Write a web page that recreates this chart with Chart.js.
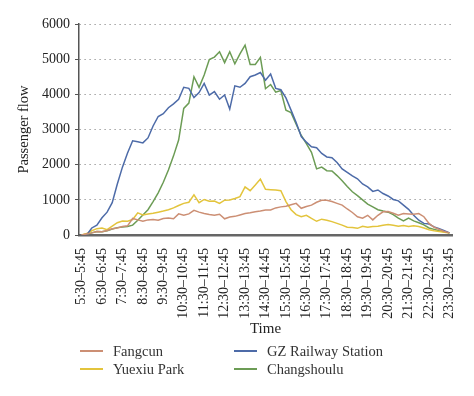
<!DOCTYPE html>
<html>
<head>
<meta charset="utf-8">
<script src="https://cdn.jsdelivr.net/npm/chart.js@4/dist/chart.umd.min.js"></script>
<style>
  html, body { margin: 0; padding: 0; background: #fff; }
  #wrap { position: relative; width: 474px; height: 396px; }
  #legend { position: absolute; left: 80px; top: 342px; display: grid;
            grid-template-columns: 154px auto; grid-auto-rows: 18px;
            font-family: "Liberation Serif", "DejaVu Serif", serif; font-size: 14.5px; color: #333; }
  .item { display: flex; align-items: center; white-space: nowrap; }
  .swatch { display: inline-block; width: 23px; height: 1.5px; margin-right: 10px; }
</style>
</head>
<body>
<div id="wrap">
  <canvas id="c" width="474" height="396"></canvas>
  <div id="legend"></div>
</div>
<script>
const categories = [
  "5:30–5:45","5:45–6:00",
  "6:00–6:15","6:15–6:30","6:30–6:45","6:45–7:00",
  "7:00–7:15","7:15–7:30","7:30–7:45","7:45–8:00",
  "8:00–8:15","8:15–8:30","8:30–8:45","8:45–9:00",
  "9:00–9:15","9:15–9:30","9:30–9:45","9:45–10:00",
  "10:00–10:15","10:15–10:30","10:30–10:45","10:45–11:00",
  "11:00–11:15","11:15–11:30","11:30–11:45","11:45–12:00",
  "12:00–12:15","12:15–12:30","12:30–12:45","12:45–13:00",
  "13:00–13:15","13:15–13:30","13:30–13:45","13:45–14:00",
  "14:00–14:15","14:15–14:30","14:30–14:45","14:45–15:00",
  "15:00–15:15","15:15–15:30","15:30–15:45","15:45–16:00",
  "16:00–16:15","16:15–16:30","16:30–16:45","16:45–17:00",
  "17:00–17:15","17:15–17:30","17:30–17:45","17:45–18:00",
  "18:00–18:15","18:15–18:30","18:30–18:45","18:45–19:00",
  "19:00–19:15","19:15–19:30","19:30–19:45","19:45–20:00",
  "20:00–20:15","20:15–20:30","20:30–20:45","20:45–21:00",
  "21:00–21:15","21:15–21:30","21:30–21:45","21:45–22:00",
  "22:00–22:15","22:15–22:30","22:30–22:45","22:45–23:00",
  "23:00–23:15","23:15–23:30","23:30–23:45"
];

const yTickValues = [0, 1000, 2000, 3000, 4000, 5000, 6000];

const fangcun = [
  0,30,60,100,90,130,180,200,240,260,
  470,430,390,430,440,420,470,480,460,600,
  560,600,700,650,610,580,560,590,460,510,
  530,570,610,630,660,680,710,710,770,800,
  820,860,900,760,810,850,930,990,990,950,
  900,850,740,640,520,480,560,430,560,660,
  665,620,560,610,600,590,610,520,330,220,
  160,100,60
];
const gzRailway = [
  0,0,200,280,490,650,920,1450,1930,2330,
  2680,2650,2620,2760,3100,3370,3450,3620,3730,3860,
  4200,4170,3910,4050,4310,3980,4080,3860,3980,3580,
  4240,4200,4310,4500,4550,4620,4400,4580,4170,4130,
  3900,3550,3200,2800,2640,2510,2480,2320,2220,2200,
  2060,1880,1780,1680,1600,1450,1370,1240,1280,1180,
  1110,1010,970,850,730,560,420,330,310,230,
  180,120,60
];
const yuexiuPark = [
  0,40,120,180,200,150,250,350,400,390,
  440,630,570,600,620,650,680,720,770,840,
  900,930,1140,920,1010,960,965,900,990,995,
  1040,1090,1370,1260,1420,1590,1300,1290,1280,1260,
  950,720,580,520,560,470,390,450,420,380,
  330,280,220,210,190,250,220,240,250,280,
  300,280,250,270,240,260,240,200,150,120,
  100,80,60
];
const changshoulu = [
  0,20,60,100,90,120,170,210,230,240,
  280,420,570,720,950,1200,1500,1850,2250,2700,
  3600,3750,4500,4200,4550,4990,5060,5210,4900,5210,
  4870,5150,5400,4850,4850,5050,4160,4280,4060,4110,
  3550,3480,3150,2830,2600,2350,1880,1930,1830,1820,
  1690,1540,1380,1230,1120,1000,880,800,720,680,
  650,580,480,400,480,400,350,290,200,160,
  120,90,60
];

const seriesNames = ["Fangcun", "GZ Railway Station", "Yuexiu Park", "Changshoulu"];
const seriesColors = ["#cc8f74", "#4d6ba8", "#e3c43c", "#6c9c55"];
const seriesData = [fangcun, gzRailway, yuexiuPark, changshoulu];

const serif = "'Liberation Serif', 'DejaVu Serif', serif";

const chart = new Chart(document.getElementById('c'), {
  type: 'line',
  data: {
    labels: categories,
    datasets: seriesNames.map((n, k) => ({
      label: n,
      data: seriesData[k],
      borderColor: seriesColors[k],
      backgroundColor: seriesColors[k],
      borderWidth: 1.5,
      pointRadius: 0,
      tension: 0,
      fill: false
    }))
  },
  options: {
    responsive: false,
    animation: false,
    devicePixelRatio: 1,
    layout: { padding: { left: 0, right: 22, top: 24, bottom: 50 } },
    plugins: { legend: { display: false }, tooltip: { enabled: false } },
    scales: {
      x: {
        type: 'category',
        offset: true,
        grid: { display: false },
        border: { display: true, color: '#666', width: 2.5 },
        ticks: {
          autoSkip: false, minRotation: 90, maxRotation: 90, padding: 5,
          color: '#222', font: { family: serif, size: 14 },
          callback: function (v, i) { return i % 4 === 0 ? this.getLabelForValue(v) : ''; }
        },
        title: { display: true, text: 'Time', color: '#222',
                 font: { family: serif, size: 15 }, padding: { top: 4, bottom: 8 } },
        afterFit: (s) => { s.height = 111; }
      },
      y: {
        min: yTickValues[0], max: yTickValues[yTickValues.length - 1],
        afterBuildTicks: (s) => { s.ticks = yTickValues.map(v => ({ value: v })); },
        grid: { display: true, color: '#8a8a8a', lineWidth: 1,
                drawTicks: true, tickLength: 4, tickColor: '#555', tickBorderDash: [], tickWidth: 1 },
        border: { display: true, color: '#555', width: 1.5, dash: [1.2, 3.8] },
        ticks: { padding: 5, color: '#222', font: { family: serif, size: 14 },
                 callback: (v) => String(v) },
        title: { display: true, text: 'Passenger flow', color: '#222',
                 font: { family: serif, size: 14.5 }, padding: { top: 15.5, bottom: 4 } },
        afterFit: (s) => { s.width = 79; }
      }
    }
  }
});

const legend = document.getElementById('legend');
seriesNames.forEach((n, k) => {
  const it = document.createElement('div');
  it.className = 'item';
  const sw = document.createElement('span');
  sw.className = 'swatch';
  sw.style.background = seriesColors[k];
  const tx = document.createElement('span');
  tx.textContent = n;
  it.appendChild(sw); it.appendChild(tx);
  legend.appendChild(it);
});
</script>
</body>
</html>
